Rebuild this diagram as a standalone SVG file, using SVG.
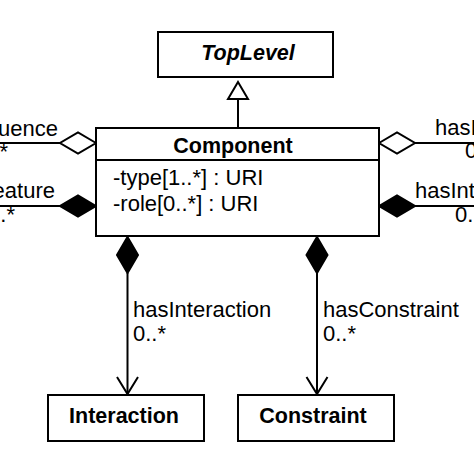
<svg xmlns="http://www.w3.org/2000/svg" width="474" height="474" viewBox="0 0 474 474">
<style>
.box{fill:#fff;stroke:#000;stroke-width:2}
.ln{fill:none;stroke:#000;stroke-width:2}
.t{font-family:"Liberation Sans",Arial,sans-serif;font-size:22px;fill:#000}
.b{font-weight:bold;font-size:21.5px}
.od{fill:#fff;stroke:#000;stroke-width:2}
.fd{fill:#000;stroke:#000;stroke-width:2}
</style>
<rect width="474" height="474" fill="#fff"/>
<g id="connectors">
  <line class="ln" x1="238" y1="99" x2="238" y2="128"/>
  <polygon class="od" points="238,82 248,99 228,99"/>
  <line class="ln" x1="0" y1="143" x2="60" y2="143"/>
  <polygon class="od" points="96,143 78,132.5 60,143 78,153.5"/>
  <line class="ln" x1="0" y1="206" x2="60" y2="206"/>
  <polygon class="fd" points="96,206 78,195.5 60,206 78,216.5"/>
  <line class="ln" x1="415" y1="143" x2="474" y2="143"/>
  <polygon class="od" points="379,143 397,132.5 415,143 397,153.5"/>
  <line class="ln" x1="415" y1="206" x2="474" y2="206"/>
  <polygon class="fd" points="379,206 397,195.5 415,206 397,216.5"/>
  <polygon class="fd" points="127.5,237 138,255 127.5,273 117,255"/>
  <line class="ln" x1="127.5" y1="273" x2="127.5" y2="394"/>
  <polyline class="ln" points="117,377 127.5,394 138,377"/>
  <polygon class="fd" points="317,237 327.5,255 317,273 306.5,255"/>
  <line class="ln" x1="317" y1="273" x2="317" y2="394"/>
  <polyline class="ln" points="306.5,377 317,394 327.5,377"/>
  <text class="t" x="58" y="136" text-anchor="end">uence</text>
  <text class="t" x="8" y="159" text-anchor="end">0..*</text>
  <text class="t" x="55" y="198" text-anchor="end">eature</text>
  <text class="t" x="15" y="222" text-anchor="end">0..*</text>
  <text class="t" x="435" y="135">hasI</text>
  <text class="t" x="465" y="158">0</text>
  <text class="t" x="415" y="198">hasInt</text>
  <text class="t" x="455" y="222">0.</text>
  <text class="t" x="133" y="317">hasInteraction</text>
  <text class="t" x="133" y="341">0..*</text>
  <text class="t" x="323" y="317">hasConstraint</text>
  <text class="t" x="323" y="341">0..*</text>
</g>
<g id="TopLevel">
  <rect class="box" x="158" y="32" width="175" height="45"/>
  <text class="t b" x="248" y="60" text-anchor="middle" font-style="italic">TopLevel</text>
</g>
<g id="Component">
  <rect class="box" x="96" y="128" width="283" height="108"/>
  <line class="ln" x1="96" y1="160" x2="379" y2="160"/>
  <text class="t b" x="233" y="153" text-anchor="middle">Component</text>
  <text class="t" x="113" y="185">-type[1..*] : URI</text>
  <text class="t" x="113" y="211">-role[0..*] : URI</text>
</g>
<g id="Interaction">
  <rect class="box" x="48" y="395" width="156" height="46"/>
  <text class="t b" x="124" y="423" text-anchor="middle">Interaction</text>
</g>
<g id="Constraint">
  <rect class="box" x="238" y="395" width="156" height="46"/>
  <text class="t b" x="313" y="423" text-anchor="middle">Constraint</text>
</g>
</svg>
